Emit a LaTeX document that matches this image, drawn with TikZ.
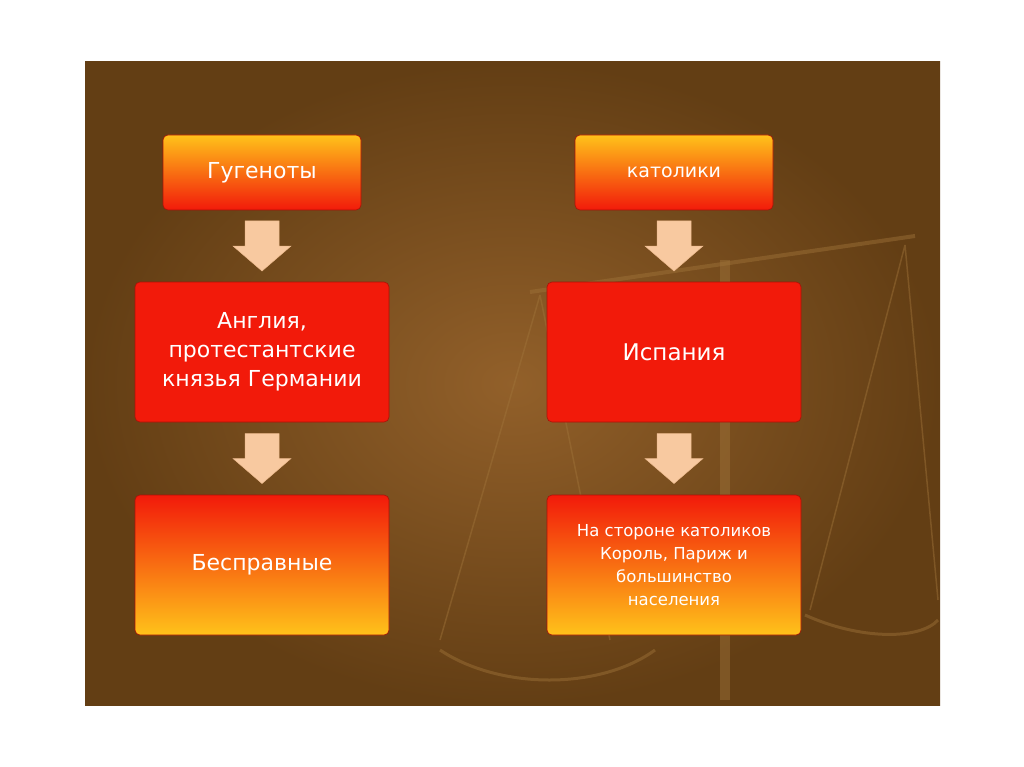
\documentclass[tikz,border=0pt]{standalone}
\usepackage{fontspec}
\setmainfont{DejaVu Sans}
\usetikzlibrary{calc}
\definecolor{bgA}{HTML}{92602A}
\definecolor{bgB}{HTML}{633E14}
\definecolor{boxred}{HTML}{F21A0A}
\definecolor{boxyel}{HTML}{FFC21A}
\definecolor{peach}{HTML}{F8C9A0}
\definecolor{scl}{HTML}{A0743A}
\tikzset{
 box/.style={rounded corners=5pt, text=white, align=center, font=\fontsize{22}{29}\selectfont, draw=boxred!70!black, line width=0.6pt},
 topbox/.style={box, top color=boxyel, bottom color=boxred},
 midbox/.style={box, fill=boxred},
 botbox/.style={box, top color=boxred, bottom color=boxyel},
 darr/.style={fill=peach, draw=peach!80!brown, line width=0.5pt},
 scaleline/.style={draw=scl, opacity=0.45, line width=1.5pt}
}
\newcommand{\downarr}[1]{\fill[darr] ($(#1)+(-17,-25)$) -- ($(#1)+(17,-25)$) -- ($(#1)+(17,0)$) -- ($(#1)+(29,0)$) -- ($(#1)+(0,25)$) -- ($(#1)+(-29,0)$) -- ($(#1)+(-17,0)$) -- cycle;}
\begin{document}
\begin{tikzpicture}[x=1pt,y=-1pt]
\fill[white] (0,0) rectangle (1024,767);
\shade[inner color=bgA, outer color=bgB] (85,62) rectangle (940,705);
% faint scales
\draw[scaleline, line width=4pt] (530,292) -- (915,236);
\draw[scaleline, line width=10pt] (725,260) -- (725,700);
\draw[scaleline] (540,295) -- (440,640) (540,295) -- (610,640);
\draw[scaleline] (905,245) -- (810,610) (905,245) -- (938,600);
\draw[scaleline, line width=3pt] (440,650) .. controls (500,690) and (600,690) .. (655,650);
\draw[scaleline, line width=3pt] (805,615) .. controls (860,640) and (920,640) .. (938,620);
% boxes
\node[topbox, minimum width=198pt, minimum height=75pt] (g) at (262,172.5) {Гугеноты};
\node[topbox, minimum width=198pt, minimum height=75pt, font=\fontsize{19}{24}\selectfont] (k) at (674,172.5) {католики};
\node[midbox, minimum width=254pt, minimum height=140pt] (a) at (262,352) {Англия,\\протестантские\\князья Германии};
\node[midbox, minimum width=254pt, minimum height=140pt, font=\fontsize{23}{27}\selectfont] (s) at (674,352) {Испания};
\node[botbox, minimum width=254pt, minimum height=140pt] (b) at (262,565) {Бесправные};
\node[botbox, minimum width=254pt, minimum height=140pt, font=\fontsize{16.5}{23}\selectfont] (n) at (674,565) {На стороне католиков\\Король, Париж и\\большинство\\населения};
% arrows
\coordinate (a1) at ($(g.south)!0.5!(a.north)$);
\coordinate (a2) at ($(k.south)!0.5!(s.north)$);
\coordinate (a3) at ($(a.south)!0.5!(b.north)$);
\coordinate (a4) at ($(s.south)!0.5!(n.north)$);
\downarr{a1}\downarr{a2}\downarr{a3}\downarr{a4}
\end{tikzpicture}
\end{document}
